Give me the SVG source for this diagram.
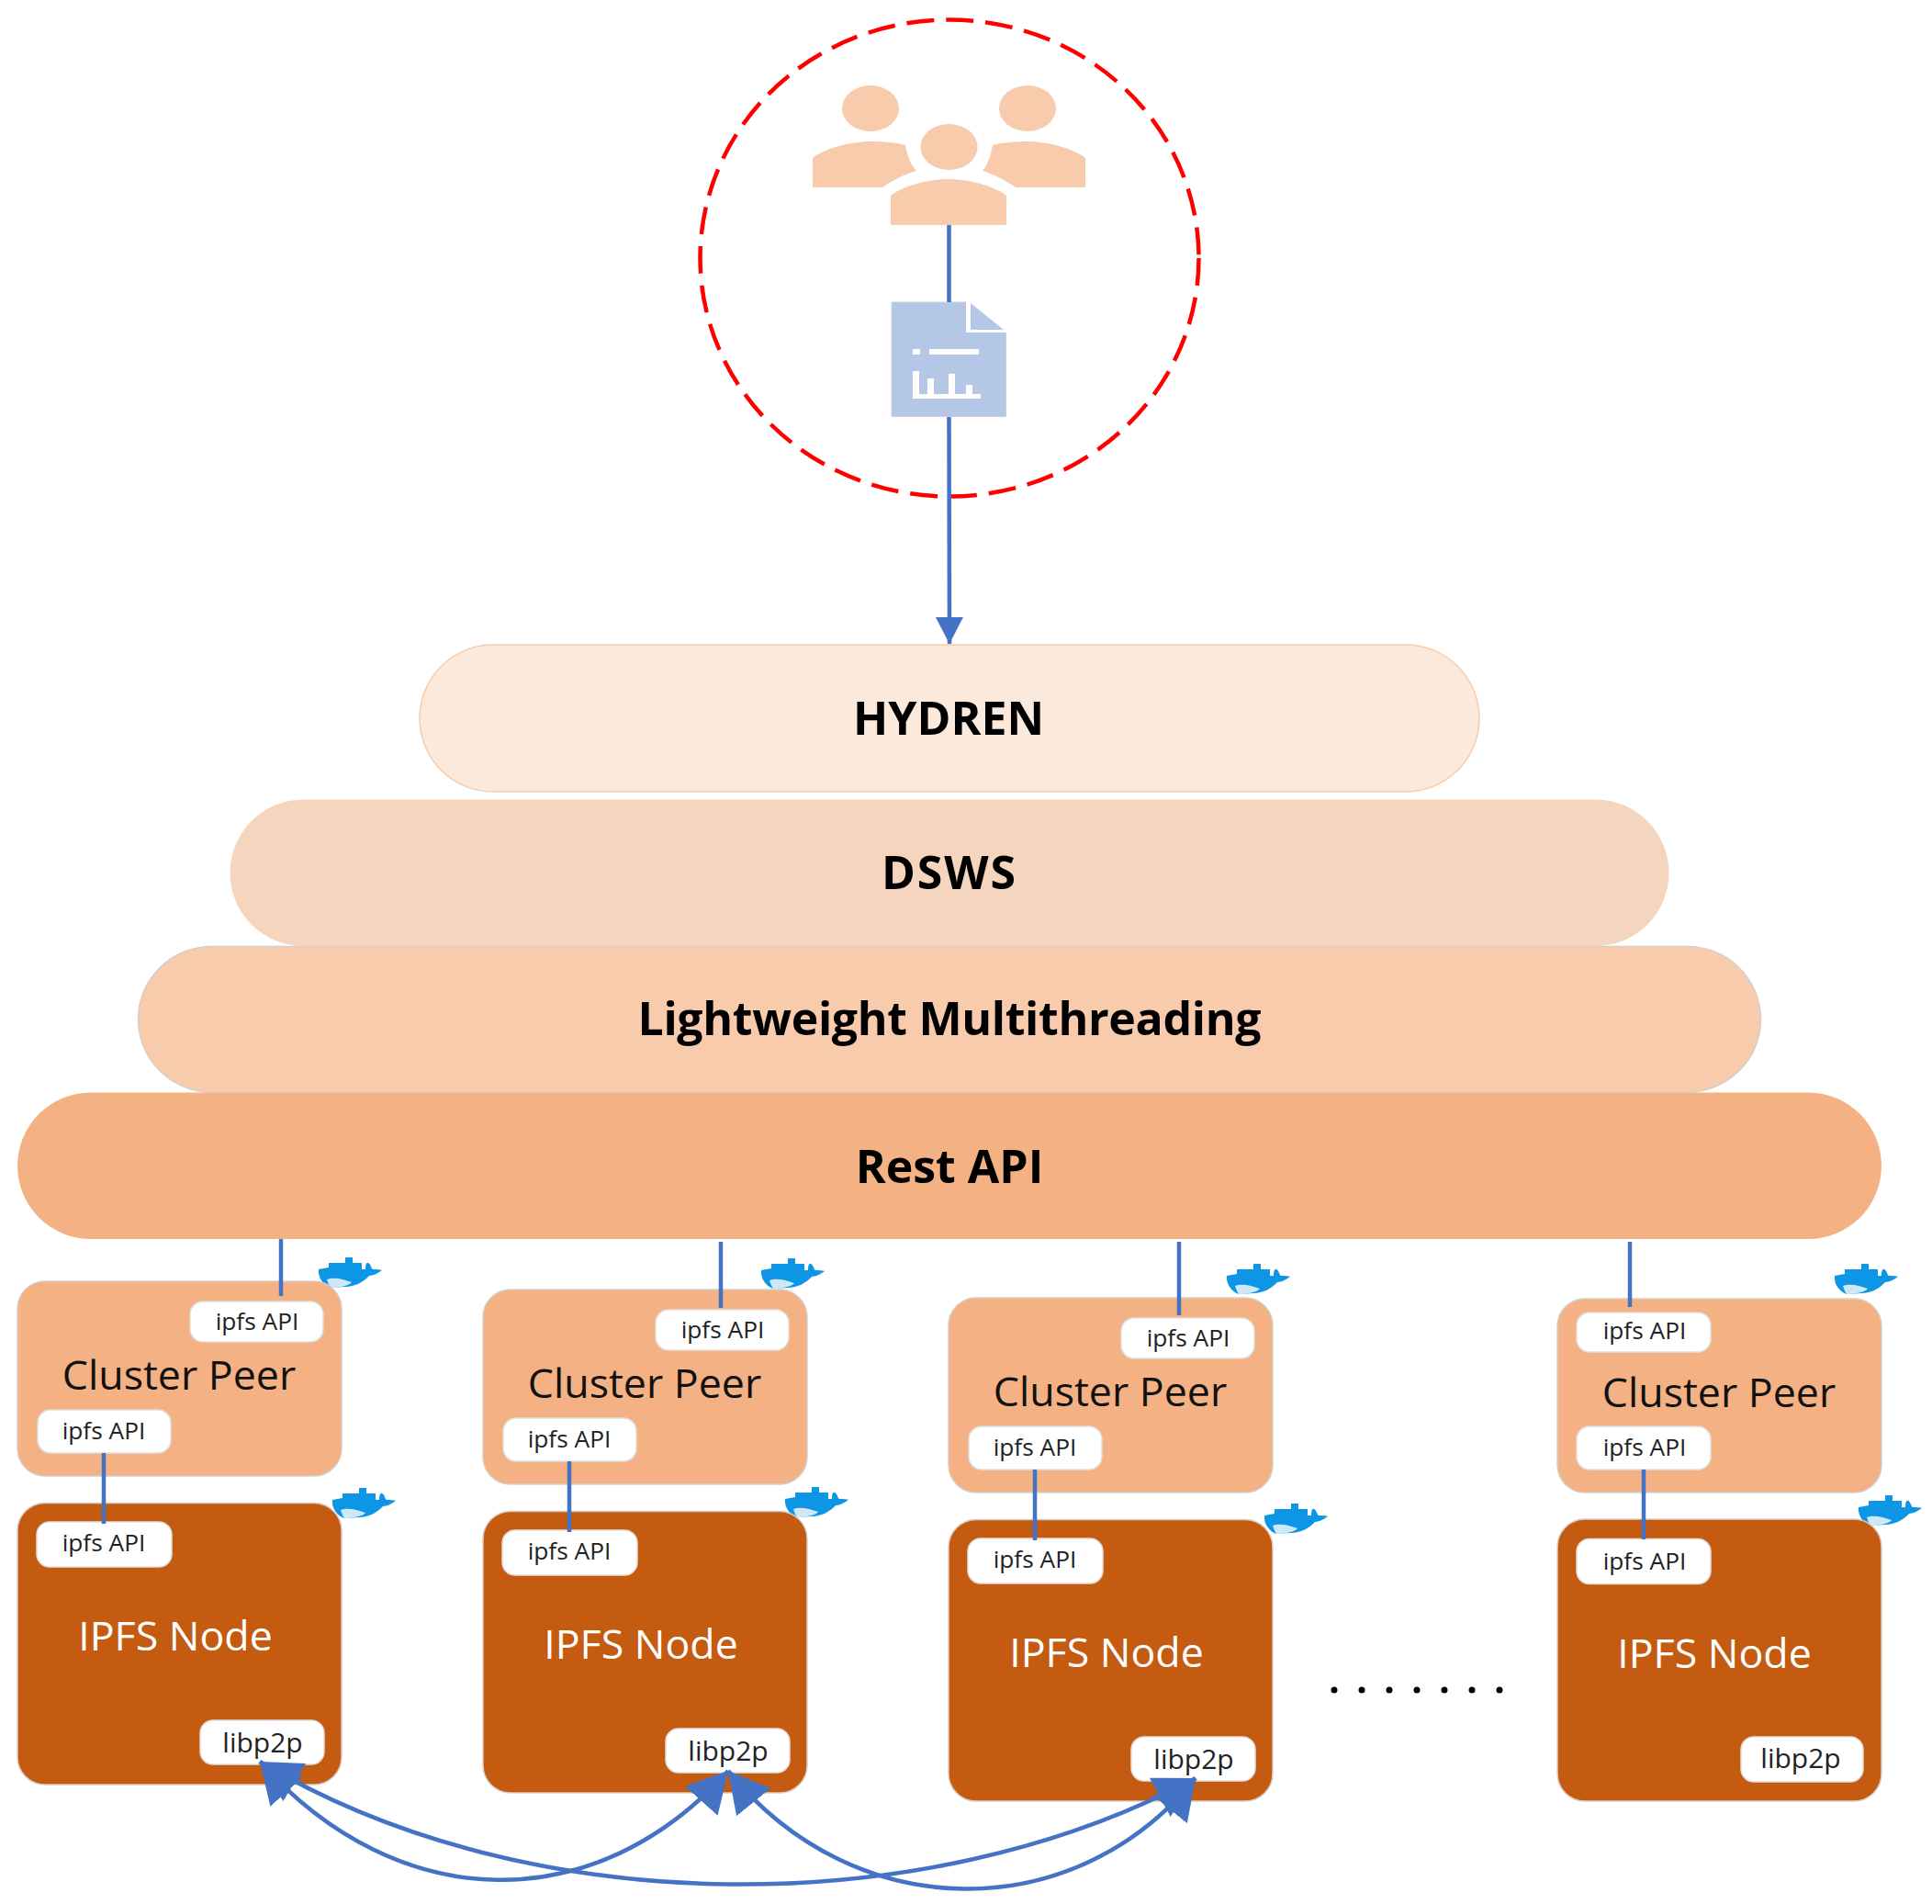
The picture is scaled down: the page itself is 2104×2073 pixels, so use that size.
<svg xmlns="http://www.w3.org/2000/svg" width="2104" height="2073" viewBox="0 0 2104 2073">
<style>
text{font-family:"Open Sans","Noto Sans","Liberation Sans",sans-serif;text-anchor:middle}
.title{font-size:50px;font-weight:700;fill:#000}
.cp{fill:#F4B183;stroke:#D6CEC6;stroke-width:1.5}
.ip{fill:#C55A11;stroke:#D6CEC6;stroke-width:1.5}
.tag{fill:#fff;stroke:#E2DEDA;stroke-width:1.5}
.cpt{font-size:44.7px;fill:#111}
.ipt{font-size:44.7px;fill:#fff}
.tagt{font-size:26.3px;fill:#222}
.libt{font-size:30px;fill:#222}
.ln{stroke:#4472C4;stroke-width:4.5;fill:none}
.cv{stroke:#4472C4;stroke-width:4.5;fill:none;marker-start:url(#big);marker-end:url(#big)}
.ppl{fill:#F8CBAD}
</style>
<defs>
<marker id="big" markerUnits="userSpaceOnUse" markerWidth="46" markerHeight="50" refX="44" refY="24" orient="auto-start-reverse"><path d="M0 0L44 24L0 48Z" fill="#4472C4"/></marker>
<marker id="arr" markerUnits="userSpaceOnUse" markerWidth="32" markerHeight="32" refX="29" refY="15" orient="auto"><path d="M0 0L29 15L0 30Z" fill="#4472C4"/></marker>
<g id="whale">
<path fill="#0E96E6" d="M1 13L12 11L12 6L30 6L30 0L38 0L38 6L48 6L48 13L52 13C52 8 53 5 55 6C58 7 58 12 60 13C64 13 68 13 70 14C66 17 60 20 56 20C50 27 40 32 30 32L14 33C6 30 0 22 1 13Z"/>
<path fill="#CFE8F7" d="M10 24C18 21 28 24 37 27C34 31 22 33 14 33C12 30 11 27 10 24Z"/>
</g>
<g id="cluster-body">
<rect class="cp" x="19" y="1395" width="353" height="212" rx="30"/>
<rect class="tag" x="207" y="1417" width="145" height="44" rx="14"/>
<text class="tagt" x="280" y="1448">ipfs API</text>
<text class="cpt" x="195" y="1513">Cluster Peer</text>
<rect class="tag" x="41" y="1535" width="145" height="47" rx="14"/>
<text class="tagt" x="113" y="1567">ipfs API</text>
</g>
<g id="ipfs-body">
<rect class="ip" x="19" y="1636.5" width="353" height="306.5" rx="30"/>
<rect class="tag" x="40" y="1657" width="147" height="49" rx="14"/>
<text class="tagt" x="113" y="1689">ipfs API</text>
<text class="ipt" x="191" y="1797">IPFS Node</text>
<rect class="tag" x="218" y="1873" width="135" height="48" rx="14"/>
<text class="libt" x="286" y="1908">libp2p</text>
</g>
</defs>
<rect width="2104" height="2073" fill="#fff"/>

<g id="users">
<ellipse cx="1034" cy="281" rx="271.5" ry="259.5" fill="none" stroke="#FF0000" stroke-width="4.500" stroke-dasharray="30 13"/>
<g class="ppl">
<ellipse cx="948" cy="118" rx="31" ry="25"/>
<ellipse cx="1119" cy="118" rx="31" ry="25"/>
<ellipse cx="1033.5" cy="160" rx="31" ry="25"/>
<path d="M885 204V172C900 160 930 154 948 154C962 154 975 155 986 158C988 170 992 180 998 186C985 190 972 196 961 204Z"/>
<path d="M1182 204V172C1167 160 1137 154 1119 154C1105 154 1092 155 1081 158C1079 170 1075 180 1070 186C1082 190 1095 196 1106 204Z"/>
<path d="M970 245V213C985 201 1015 195 1033 195C1051 195 1081 201 1096 213V245Z"/>
</g>
</g>
<g id="document">
<path fill="#B4C7E7" stroke="#CDD0D6" stroke-width="1" d="M971 329H1095.500V453.500H971Z"/>
<path fill="#fff" d="M1052 326H1098V362H1052Z"/>
<path fill="#B4C7E7" d="M1057 330L1093 359H1057Z"/>
<path fill="#fff" d="M994 380H1002V386H994ZM1012 380H1066V386H1012ZM994 404H1001V429H1010V412H1017V429H1033V407H1040V429H1052V419H1059V429H1068V434H994Z"/>
</g>

<g id="hydren"><rect x="457" y="702" width="1154" height="160" rx="80" fill="#FBE9DC" stroke="#F8CBAD" stroke-width="1.500"/><text class="title" x="1033" y="800">HYDREN</text></g>
<g id="dsws"><rect x="250.500" y="870.500" width="1567" height="159.500" rx="80" fill="#F6D5BE"/><text class="title" x="1033" y="968" textLength="146">DSWS</text></g>
<g id="lightweight-multithreading"><rect x="150.500" y="1030.500" width="1767" height="158.500" rx="80" fill="#F8CBAD" stroke="#D6CEC6" stroke-width="1.500"/><text class="title" x="1034" y="1127" textLength="679">Lightweight Multithreading</text></g>
<g id="rest-api"><rect x="19" y="1189.500" width="2030" height="159.500" rx="80" fill="#F4B183"/><text class="title" x="1034" y="1288">Rest API</text></g>

<g id="cluster-peer-1"><use href="#whale" x="346" y="1369"/><use href="#cluster-body"/></g>
<g id="ipfs-node-1"><use href="#whale" x="361" y="1620"/><use href="#ipfs-body"/></g>
<g id="cluster-peer-2"><use href="#whale" x="828" y="1370"/><use href="#cluster-body" x="507" y="9"/></g>
<g id="ipfs-node-2"><use href="#whale" x="854" y="1619"/><use href="#ipfs-body" x="507" y="9"/></g>
<g id="cluster-peer-3"><use href="#whale" x="1335" y="1376"/><use href="#cluster-body" x="1014" y="18"/></g>
<g id="ipfs-node-3"><use href="#whale" x="1376" y="1637"/><use href="#ipfs-body" x="1014" y="18"/></g>
<g id="cluster-peer-4">
<use href="#whale" x="1997" y="1376"/>
<rect class="cp" x="1696" y="1414" width="353" height="211" rx="30"/>
<rect class="tag" x="1717" y="1429" width="146" height="43" rx="14"/>
<text class="tagt" x="1791" y="1458">ipfs API</text>
<text class="cpt" x="1872" y="1532">Cluster Peer</text>
<rect class="tag" x="1717" y="1553" width="146" height="47" rx="14"/>
<text class="tagt" x="1791" y="1585">ipfs API</text>
</g>
<g id="ipfs-node-4">
<use href="#whale" x="2023" y="1628"/>
<rect class="ip" x="1696" y="1654" width="353" height="307" rx="30"/>
<rect class="tag" x="1717" y="1675.500" width="146" height="49" rx="14"/>
<text class="tagt" x="1791" y="1709">ipfs API</text>
<text class="ipt" x="1867" y="1816">IPFS Node</text>
<rect class="tag" x="1896" y="1891" width="133" height="49" rx="14"/>
<text class="libt" x="1961" y="1925">libp2p</text>
</g>
<g id="ellipsis"><line x1="1453" y1="1840" x2="1634" y2="1840" stroke="#000" stroke-width="7" stroke-linecap="round" stroke-dasharray="0 30"/></g>

<g id="connectors">
<line class="ln" x1="1033.5" y1="245" x2="1033.5" y2="329"/>
<line class="ln" x1="1033.500" y1="454" x2="1034" y2="701" marker-end="url(#arr)"/>
<line class="ln" x1="306" y1="1349" x2="306" y2="1411"/>
<line class="ln" x1="785" y1="1352" x2="785" y2="1424"/>
<line class="ln" x1="1284" y1="1352" x2="1284" y2="1432"/>
<line class="ln" x1="1775" y1="1352" x2="1775" y2="1423"/>
<line class="ln" x1="113" y1="1582" x2="113" y2="1659"/>
<line class="ln" x1="620" y1="1591" x2="620" y2="1668"/>
<line class="ln" x1="1127" y1="1600" x2="1127" y2="1677"/>
<line class="ln" x1="1790" y1="1600" x2="1790" y2="1676"/>
<path class="cv" d="M283 1918C435 2088 650 2088 793 1928"/>
<path class="cv" d="M283 1918C575 2093 1010 2093 1302 1936"/>
<path class="cv" d="M793 1928C931 2098 1170 2098 1302 1936"/>
</g>
</svg>
